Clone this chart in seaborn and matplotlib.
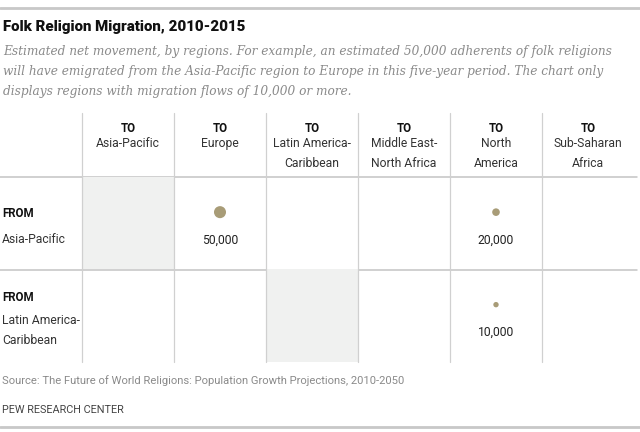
import matplotlib
matplotlib.use("Agg")
import matplotlib.pyplot as plt
import matplotlib.transforms as mtransforms
from matplotlib.patches import Rectangle
import pandas as pd
import seaborn as sns

# data
regions_to = ["Asia-Pacific", "Europe", "Latin America-\nCaribbean", "Middle East-\nNorth Africa",
              "North\nAmerica", "Sub-Saharan\nAfrica"]
regions_from = ["Asia-Pacific", "Latin America-\nCaribbean"]
flow_from = [0, 0, 1]
flow_to = [1, 4, 4]
flow_value = [50000, 20000, 10000]
flow_label = ["50,000", "20,000", "10,000"]
diag_cells = [(0, 0), (1, 2)]  # (row, col) where from == to

title = "Folk Religion Migration, 2010-2015"
subtitle_lines = ["Estimated net movement, by regions. For example, an estimated 50,000 adherents of folk religions",
                  "will have emigrated from the Asia-Pacific region to Europe in this five-year period. The chart only",
                  "displays regions with migration flows of 10,000 or more."]
source = "Source: The Future of World Religions: Population Growth Projections, 2010-2050"
credit = "PEW RESEARCH CENTER"

sns.set_theme(style="white")
plt.rcParams["font.family"] = ["Roboto", "DejaVu Sans"]

dot_color = "#a89c77"
line_color = "#c8c8c8"
text_dark = "#222222"
text_gray = "#8a8a8a"

fig = plt.figure(figsize=(6.4, 4.32), dpi=100)
fig.patch.set_facecolor("white")

# background axes in pixel coords
bg = fig.add_axes([0, 0, 1, 1])
bg.set_xlim(0, 640)
bg.set_ylim(432, 0)
bg.axis("off")

# grid axes
left, right, top, bottom = 82, 634, 177, 362
rowh = (bottom - top) / len(regions_from)
ax = fig.add_axes([left / 640, 1 - bottom / 432, (right - left) / 640, (bottom - top) / 432])
ax.set_xlim(-0.5, len(regions_to) - 0.5)
ax.set_ylim(len(regions_from) - 0.5, -0.5)
ax.axis("off")
ax.patch.set_alpha(0)

# top / bottom rules
bg.plot([0, 640], [8, 8], color=line_color, lw=2)
bg.plot([0, 640], [427, 427], color=line_color, lw=2)

bg.text(3, 27, title, fontsize=10.8, fontweight="heavy", color="#111111", va="center", ha="left")

# subtitle: fit first line to the reference width
renderer = fig.canvas.get_renderer()
sub_texts = []
for i, line in enumerate(subtitle_lines):
    t = bg.text(3, 51 + i * 20.5, line, fontsize=9.6, style="italic", family="DejaVu Serif",
                color=text_gray, va="center", ha="left")
    sub_texts.append(t)
w = sub_texts[0].get_window_extent(renderer).width
fs = 9.6 * 610 / w
for t in sub_texts:
    t.set_fontsize(fs)

# shaded diagonal cells
for r, c in diag_cells:
    ax.add_patch(Rectangle((c - 0.5, r - 0.5), 1, 1, facecolor="#f0f1f0", edgecolor="none", zorder=0))

# grid lines
blend = mtransforms.blended_transform_factory(ax.transData, bg.transData)
for k in range(len(regions_to)):
    ax.plot([k - 0.5, k - 0.5], [113, bottom], color="#d0d0d0", lw=0.9, transform=blend, clip_on=False)
for r in range(len(regions_from)):
    bg.plot([0, 637], [top + r * rowh] * 2, color="#c4c4c4", lw=1.1)

# column headers
for k, name in enumerate(regions_to):
    ax.text(k, 129, "TO", fontsize=8.3, fontweight="bold", color="#111111", ha="center", va="center",
            transform=blend)
    ax.text(k, 137, name, fontsize=8.7, color="#333333", ha="center", va="top", linespacing=1.7,
            transform=blend)

# row headers, block centred on each row
for r, name in enumerate(regions_from):
    n = name.count("\n") + 1
    yc = top + (r + 0.5) * rowh
    y_from = yc - 10 - 8 * (n - 1)
    bg.text(2, y_from, "FROM", fontsize=8.3, fontweight="bold", color="#111111", ha="left", va="center")
    bg.text(2, y_from + 20 - 4 * (n - 1), name, fontsize=8.7, color="#333333", ha="left", va="top",
            linespacing=1.7)

# bubbles
df = pd.DataFrame({"row": flow_from, "col": flow_to, "value": flow_value, "label": flow_label})
df["y"] = df["row"] - 0.12
sns.scatterplot(data=df, x="col", y="y", size="value", sizes=(15, 75), size_norm=(10000, 50000),
                color=dot_color, edgecolor="none", legend=False, ax=ax, clip_on=False)
for _, d in df.iterrows():
    ax.text(d["col"], d["row"] + 0.18, d["label"], fontsize=8.7, color=text_dark, ha="center", va="center")
ax.set_xlim(-0.5, len(regions_to) - 0.5)
ax.set_ylim(len(regions_from) - 0.5, -0.5)

bg.text(2, 381, source, fontsize=8.1, color=text_gray, ha="left", va="center")
bg.text(2, 410, credit, fontsize=7.8, color="#444444", ha="left", va="center")

fig.savefig("out.png", dpi=100)
